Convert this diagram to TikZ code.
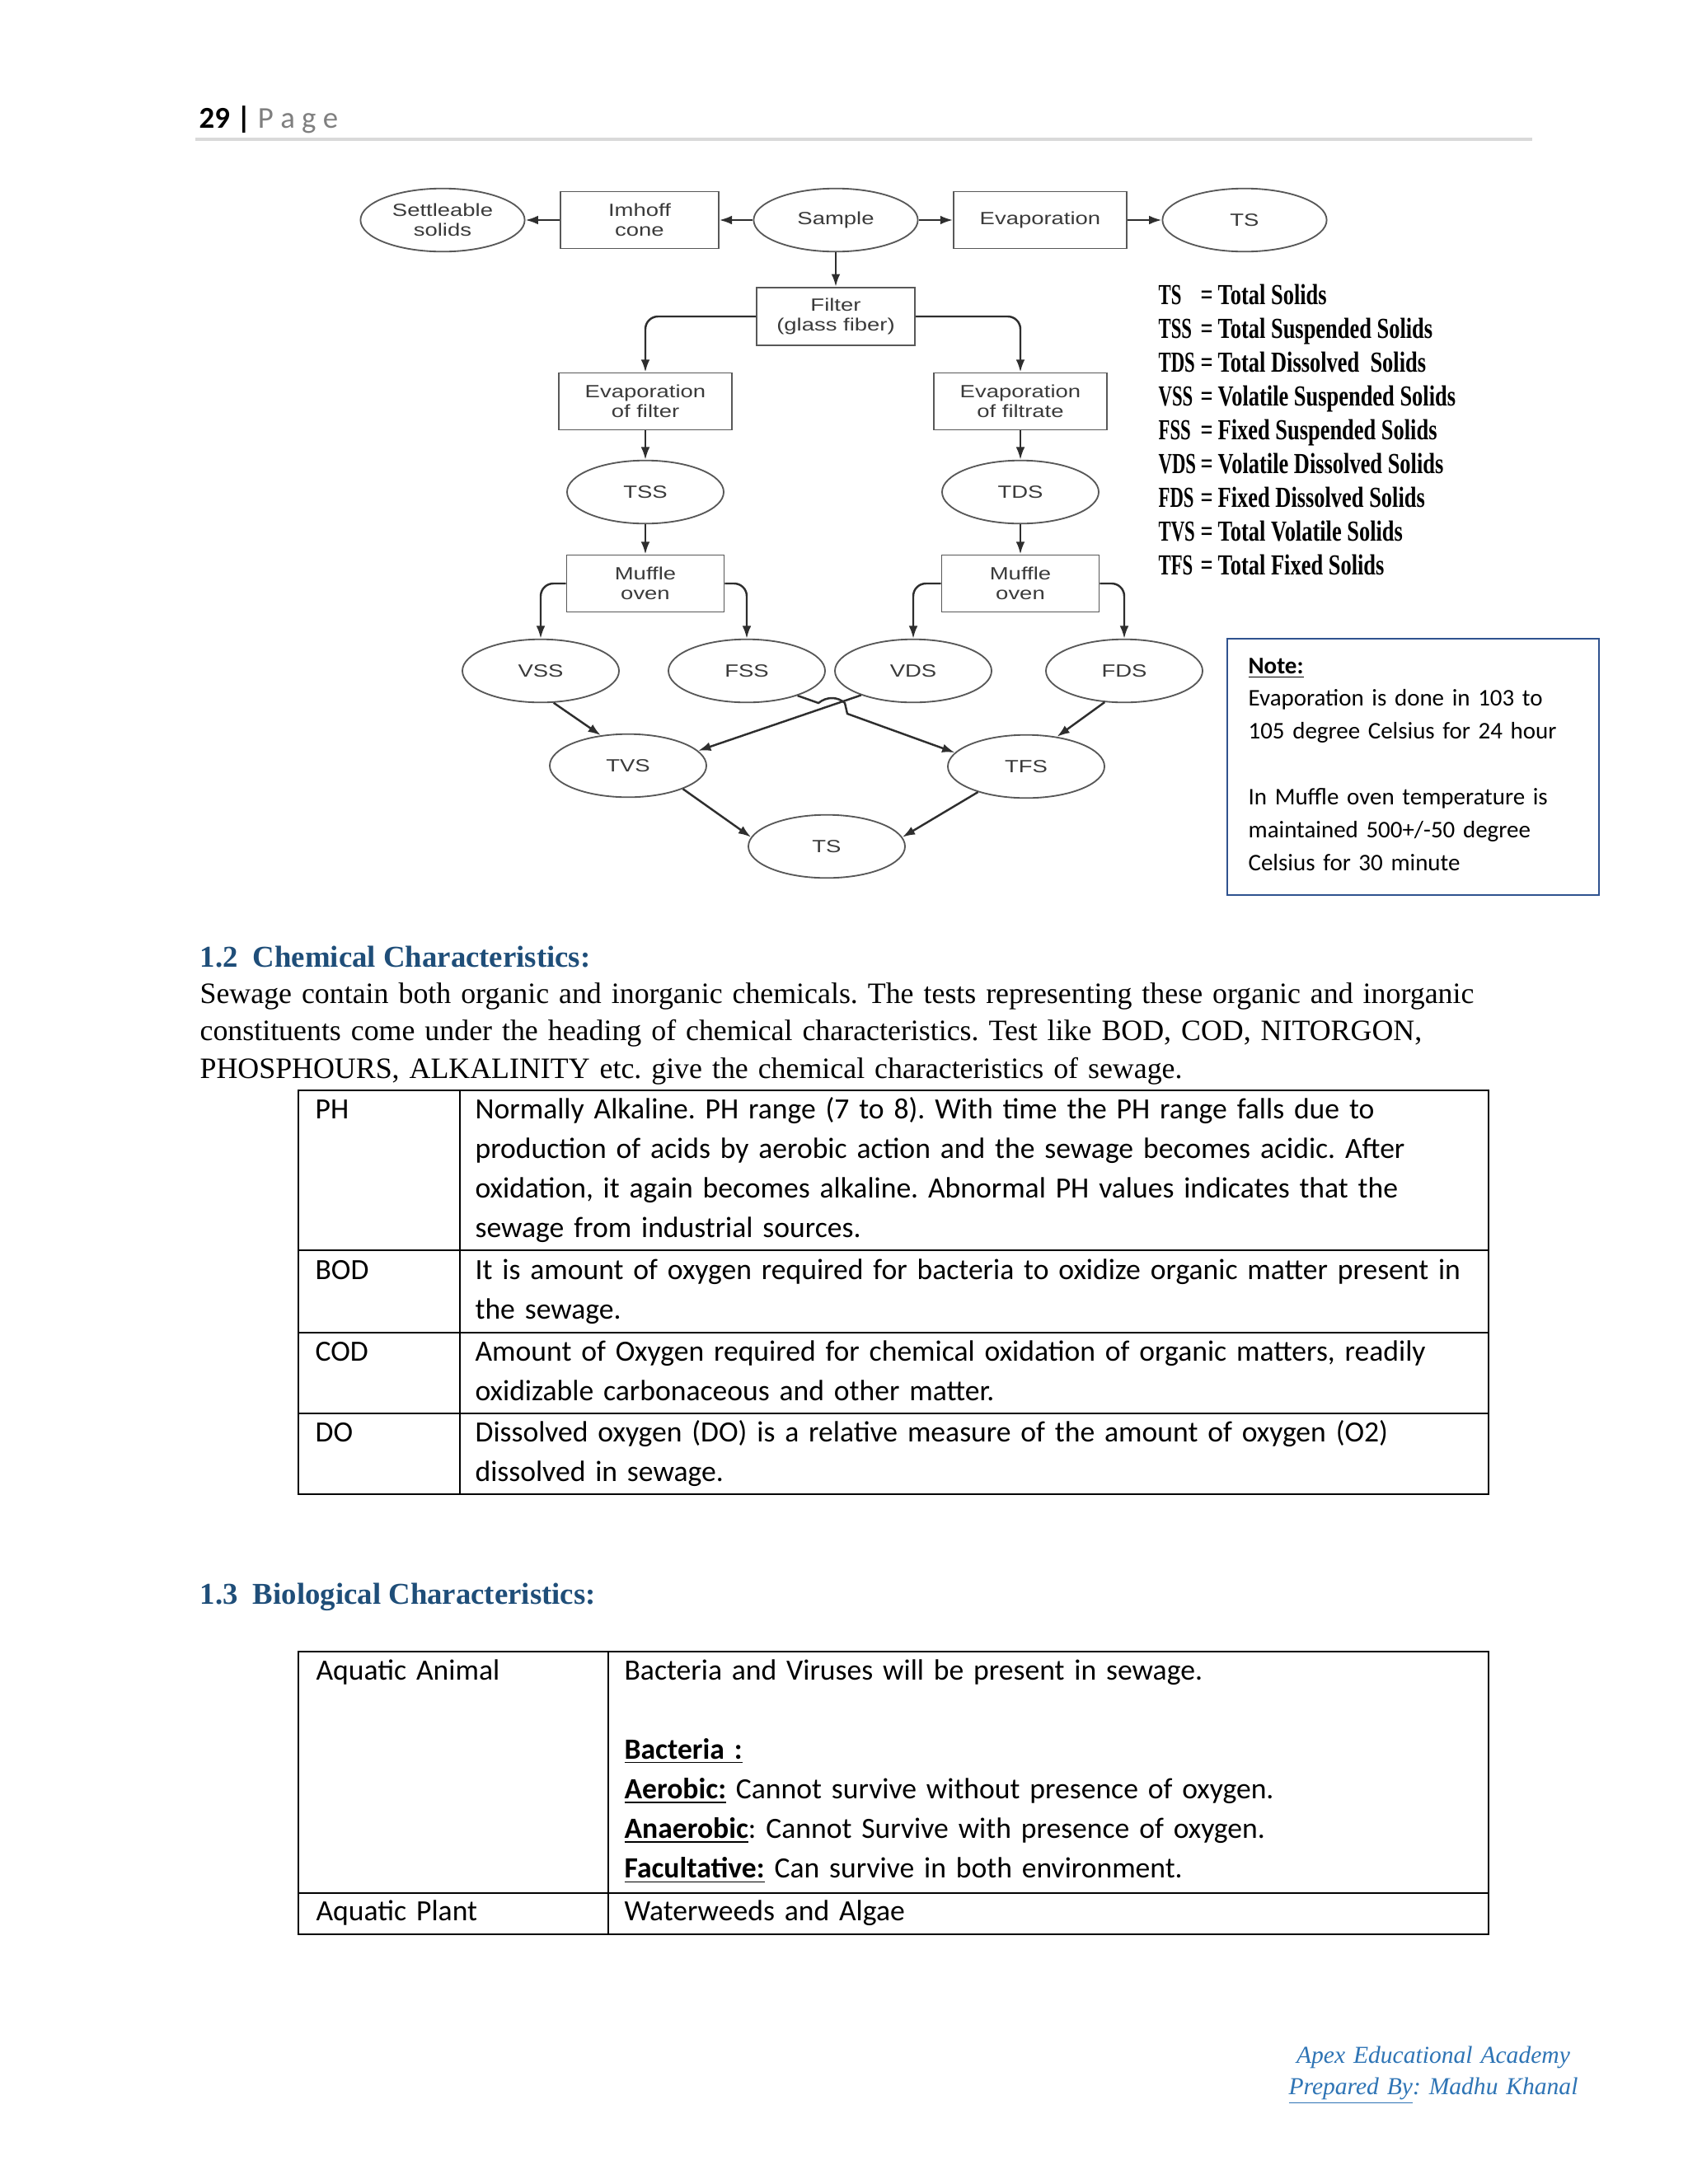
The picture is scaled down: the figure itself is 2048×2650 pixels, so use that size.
\documentclass[tikz,border=0pt]{standalone}
\usepackage{fontspec}
\usepackage{graphicx}
\setmainfont{Liberation Serif}
\newfontfamily\calibri{Carlito}
\newfontfamily\diafont{Liberation Sans}[FakeStretch=1.28]
\newfontfamily\legfont{Liberation Serif}[FakeStretch=0.75]
\usetikzlibrary{shapes.geometric,arrows.meta}
\definecolor{headblue}{HTML}{1F4E79}
\definecolor{footblue}{HTML}{2E74B5}
\definecolor{notecol}{HTML}{2F528F}
\definecolor{dline}{HTML}{2E2E2E}
\definecolor{dtext}{HTML}{3A3A3A}
\definecolor{rulegray}{HTML}{D9D9D9}
\definecolor{pagegray}{HTML}{7F7F7F}
\frenchspacing
\begin{document}
\begin{tikzpicture}[x=0.3263pt,y=-0.3263pt,
  dnode/.style={draw=dline!80, line width=0.6pt, inner sep=0pt, align=center, text=dtext, font=\diafont\fontsize{7}{7.8}\selectfont},
  ell/.style={dnode, ellipse, minimum width=62pt, minimum height=25pt},
  bigell/.style={ell, minimum width=65pt},
  rbox/.style={dnode, rectangle, minimum width=62.3pt, minimum height=22.5pt},
  wbox/.style={rbox, minimum width=68.5pt},
  arr/.style={draw=dline, line width=0.8pt, -{Latex[length=5pt,width=3.5pt]}},
  rarr/.style={arr, rounded corners=5pt},
  legline/.style={anchor=base west, inner sep=0pt, font=\legfont\bfseries\fontsize{11.5}{13}\selectfont},
  celltext/.style={anchor=base west, inner sep=0pt, align=left, font=\calibri\fontsize{11.62}{15.7}\selectfont},
  bodytext/.style={anchor=base west, inner sep=0pt, align=left, font=\fontsize{11.7}{15}\selectfont},
  heading/.style={anchor=base west, inner sep=0pt, text=headblue, font=\bfseries\fontsize{12}{14}\selectfont},
  tabline/.style={draw=black, line width=0.6pt}
]
\fill[white] (0,0) rectangle (2048,2650);
\useasboundingbox (0,0) rectangle (2048,2650);

% header
\node[anchor=base west, inner sep=0pt, font=\calibri\fontsize{12}{14}\selectfont] (hdr) at (241,155)
  {\textbf{29} \textbf{|} \textcolor{pagegray}{P a g e}};
\draw[rulegray, line width=1pt] (237,169) -- (1859,169);

% flow diagram
\node[bigell] (settle) at (537,267) {Settleable\\solids};
\node[rbox, minimum width=62.5pt] (imhoff) at (776,267) {Imhoff\\cone};
\node[bigell] (sample) at (1014,267) {Sample};
\node[wbox] (evap) at (1262,267) {Evaporation};
\node[bigell] (tstop) at (1510,267) {TS};
\node[rbox, minimum width=62.7pt, minimum height=23pt] (filter) at (1014,384) {Filter\\(glass fiber)};
\node[wbox] (evapf) at (783,487) {Evaporation\\of filter};
\node[wbox] (evapft) at (1238,487) {Evaporation\\of filtrate};
\node[ell] (tss) at (783,597) {TSS};
\node[ell] (tds) at (1238,597) {TDS};
\node[rbox] (mufL) at (783,708) {Muffle\\oven};
\node[rbox] (mufR) at (1238,708) {Muffle\\oven};
\node[ell] (vss) at (656,814) {VSS};
\node[ell] (fss) at (906,814) {FSS};
\node[ell] (vds) at (1108,814) {VDS};
\node[ell] (fds) at (1364,814) {FDS};
\node[ell] (tvs) at (762,929) {TVS};
\node[ell] (tfs) at (1245,930) {TFS};
\node[ell] (tsb) at (1003,1027) {TS};

\draw[arr] (sample.west) -- (imhoff.east);
\draw[arr] (imhoff.west) -- (settle.east);
\draw[arr] (sample.east) -- (evap.west);
\draw[arr] (evap.east) -- (tstop.west);
\draw[arr] (sample.south) -- (filter.north);
\draw[rarr] (filter.west) -| (evapf.north);
\draw[rarr] (filter.east) -| (evapft.north);
\draw[arr] (evapf.south) -- (tss.north);
\draw[arr] (evapft.south) -- (tds.north);
\draw[arr] (tss.south) -- (mufL.north);
\draw[arr] (tds.south) -- (mufR.north);
\draw[rarr] (mufL.west) -| (vss.north);
\draw[rarr] (mufL.east) -| (fss.north);
\draw[rarr] (mufR.west) -| (vds.north);
\draw[rarr] (mufR.east) -| (fds.north);
\draw[arr] (vss.-68) -- (tvs.132);
\draw[arr] (vds.205) -- (tvs.12);
\coordinate (hopA) at (993,853);
\coordinate (hopB) at (1025,853);
\coordinate (hopC) at (1028,866);
\draw[arr] (fss.-26) -- (hopA) .. controls (1003,845) and (1016,845) .. (hopB) -- (hopC) -- (tfs.169);
\draw[arr] (fds.238) -- (tfs.44);
\draw[arr] (tvs.-23) -- (tsb.173);
\draw[arr] (tfs.208) -- (tsb.7);

% legend
\foreach \ab/\tx [count=\i] in {TS/Total Solids, TSS/Total Suspended Solids, TDS/Total Dissolved\ \ Solids,
  VSS/Volatile Suspended Solids, FSS/Fixed Suspended Solids, VDS/Volatile Dissolved Solids,
  FDS/Fixed Dissolved Solids, TVS/Total Volatile Solids, TFS/Total Fixed Solids}
  \node[legline, name=leg\i] at (1405,{369+41.1*(\i-1)}) {\makebox[16.6pt][l]{\scalebox{0.86}[1]{\ab}}=\hspace{2pt}\tx};

% note box
\draw[notecol, line width=0.8pt] (1489,775) rectangle (1940,1086);
\node[anchor=base west, inner sep=0pt, align=left, text width=140pt, font=\calibri\fontsize{9.45}{13}\selectfont] (note) at (1514,817)
  {\underline{\textbf{Note:}}\\
   Evaporation is done in 103 to\\
   105 degree Celsius for 24 hour\\[13pt]
   In Muffle oven temperature is\\
   maintained 500+/-50 degree\\
   Celsius for 30 minute};

% section 1.2
\node[heading] (h12) at (242,1173) {1.2\ \ Chemical Characteristics:};
\node[bodytext, text width=560pt] (para) at (242,1217)
  {Sewage contain both organic and inorganic chemicals. The tests representing these organic and inorganic\\
   constituents come under the heading of chemical characteristics. Test like BOD, COD, NITORGON,\\
   PHOSPHOURS, ALKALINITY etc. give the chemical characteristics of sewage.};

% chemical table
\draw[tabline] (362,1323) rectangle (1806,1813);
\draw[tabline] (362,1517) -- (1806,1517);
\draw[tabline] (362,1617) -- (1806,1617);
\draw[tabline] (362,1715) -- (1806,1715);
\draw[tabline] (558,1323) -- (558,1813);
\node[celltext, text width=55pt] (ph) at (382,1357) {PH};
\node[celltext, text width=420pt] (phd) at (576,1357)
  {Normally Alkaline. PH range (7 to 8). With time the PH range falls due to\\
   production of acids by aerobic action and the sewage becomes acidic. After\\
   oxidation, it again becomes alkaline. Abnormal PH values indicates that the\\
   sewage from industrial sources.};
\node[celltext, text width=55pt] (bod) at (382,1552) {BOD};
\node[celltext, text width=420pt] (bodd) at (576,1552)
  {It is amount of oxygen required for bacteria to oxidize organic matter present in\\
   the sewage.};
\node[celltext, text width=55pt] (cod) at (382,1651) {COD};
\node[celltext, text width=420pt] (codd) at (576,1651)
  {Amount of Oxygen required for chemical oxidation of organic matters, readily\\
   oxidizable carbonaceous and other matter.};
\node[celltext, text width=55pt] (do) at (382,1749) {DO};
\node[celltext, text width=420pt] (dod) at (576,1749)
  {Dissolved oxygen (DO) is a relative measure of the amount of oxygen (O2)\\
   dissolved in sewage.};

% section 1.3
\node[heading] (h13) at (242,1946) {1.3\ \ Biological Characteristics:};
\draw[tabline] (362,2004) rectangle (1806,2347);
\draw[tabline] (362,2297) -- (1806,2297);
\draw[tabline] (738,2004) -- (738,2347);
\node[celltext, text width=110pt] (aa) at (383,2038) {Aquatic Animal};
\node[celltext, text width=340pt] (aad) at (757,2038)
  {Bacteria and Viruses will be present in sewage.\\[15.7pt]
   \underline{\textbf{Bacteria :}}\\
   \underline{\textbf{Aerobic:}} Cannot survive without presence of oxygen.\\
   \underline{\textbf{Anaerobic}}: Cannot Survive with presence of oxygen.\\
   \underline{\textbf{Facultative:}} Can survive in both environment.};
\node[celltext, text width=110pt] (ap) at (383,2330) {Aquatic Plant};
\node[celltext, text width=340pt] (apd) at (757,2330) {Waterweeds and Algae};

% footer
\node[anchor=base, inner sep=0pt, align=center, text width=160pt, text=footblue, font=\itshape\fontsize{9.65}{12.4}\selectfont] (foot) at (1739,2503)
  {Apex Educational Academy\\ \underline{Prepared By}: Madhu Khanal};
\end{tikzpicture}
\end{document}
